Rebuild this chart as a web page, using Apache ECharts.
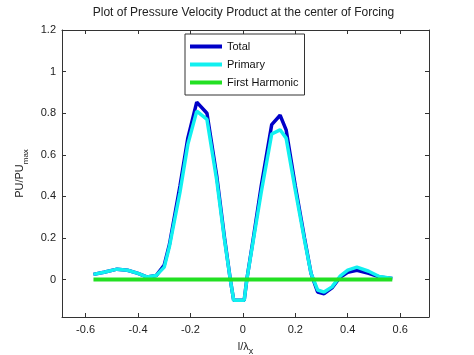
<!DOCTYPE html>
<html><head><meta charset="utf-8">
<script src="https://cdn.jsdelivr.net/npm/echarts@6/dist/echarts.min.js"></script>
<style>html,body{margin:0;padding:0;background:#fff}#c{width:474px;height:355px}</style>
</head><body><div id="c"></div>
<script>
const xTotal = [-0.57,-0.53,-0.48,-0.44,-0.40,-0.365,-0.33,-0.30,-0.28,-0.24,-0.21,-0.176,-0.137,-0.10,-0.07,-0.048,-0.035,0.005,0.015,0.04,0.07,0.11,0.142,0.165,0.20,0.235,0.26,0.285,0.31,0.34,0.37,0.40,0.435,0.48,0.52,0.57];
const total  = [0.025,0.035,0.05,0.045,0.03,0.012,0.02,0.07,0.17,0.45,0.68,0.853,0.80,0.50,0.20,0.0,-0.10,-0.10,0.0,0.2,0.45,0.745,0.79,0.72,0.45,0.2,0.03,-0.06,-0.068,-0.04,0.01,0.035,0.045,0.03,0.013,0.005];
const primary= [0.025,0.035,0.05,0.045,0.03,0.012,0.02,0.06,0.16,0.42,0.65,0.81,0.77,0.48,0.19,0.0,-0.10,-0.10,0.0,0.19,0.42,0.70,0.72,0.68,0.43,0.19,0.03,-0.05,-0.06,-0.035,0.015,0.045,0.06,0.04,0.015,0.005];
const xHarm = [-0.57,0.57];
const harm  = [0,0];
const xTicks = [-0.6,-0.4,-0.2,0,0.2,0.4,0.6];
const yTicks = [0,0.2,0.4,0.6,0.8,1,1.2];

const pair = (xs, ys) => xs.map((x,i)=>[x,ys[i]]);
const axisCol = '#333';
const font = 'Liberation Sans, Arial, sans-serif';
const chart = echarts.init(document.getElementById('c'));
const xBase = {type:'value',min:-0.69,max:0.71,splitLine:{show:false},
  axisLine:{show:true,onZero:false,lineStyle:{color:axisCol}},
  axisTick:{show:true,inside:true,length:4,customValues:xTicks,lineStyle:{color:axisCol}}};
const yBase = {type:'value',min:-0.18,max:1.2,splitLine:{show:false},
  axisLine:{show:true,onZero:false,lineStyle:{color:axisCol}},
  axisTick:{show:true,inside:true,length:4,customValues:yTicks,lineStyle:{color:axisCol}}};
chart.setOption({
  animation:false,
  backgroundColor:'#fff',
  title:{text:'Plot of Pressure Velocity Product at the center of Forcing',left:238.5,top:2,textAlign:'center',
    textStyle:{fontFamily:font,fontSize:12,fontWeight:'normal',color:'#222'}},
  grid:{left:62,right:45,top:30,bottom:38,containLabel:false,outerBoundsMode:'none'},
  legend:{orient:'vertical',left:185,top:34,width:122,itemWidth:32,itemHeight:4,itemGap:7,
    padding:[7,6,7,5],borderColor:'#333',borderWidth:1,backgroundColor:'#fff',
    textStyle:{fontFamily:font,fontSize:11,color:'#111'},
    data:[{name:'Total',icon:'rect'},{name:'Primary',icon:'rect'},{name:'First Harmonic',icon:'rect'}]},
  xAxis:[
    Object.assign({},xBase,{position:'bottom',name:'{a|l/λ}{s|x}',nameLocation:'middle',nameGap:20,
      nameTextStyle:{rich:{a:{fontFamily:font,fontSize:11,color:'#222'},s:{fontFamily:font,fontSize:9,color:'#222',padding:[10,0,0,0]}}},
      axisLabel:{customValues:xTicks,fontFamily:font,fontSize:11,color:'#222',margin:7}}),
    Object.assign({},xBase,{position:'top',axisLabel:{show:false}})
  ],
  yAxis:[
    Object.assign({},yBase,{position:'left',name:'{a|PU/PU}{s|max}',nameLocation:'middle',nameGap:27,
      nameTextStyle:{rich:{a:{fontFamily:font,fontSize:11,color:'#222'},s:{fontFamily:font,fontSize:8,color:'#222',padding:[12,0,0,0]}}},
      axisLabel:{customValues:yTicks,fontFamily:font,fontSize:11,color:'#222',margin:6}}),
    Object.assign({},yBase,{position:'right',axisLabel:{show:false}})
  ],
  series:[
    {name:'Total',type:'line',data:pair(xTotal,total),showSymbol:false,lineStyle:{width:3.5,color:'#0000c8'},itemStyle:{color:'#0000c8'},z:2},
    {name:'Primary',type:'line',data:pair(xTotal,primary),showSymbol:false,lineStyle:{width:3.5,color:'#11f0f0'},itemStyle:{color:'#11f0f0'},z:3},
    {name:'First Harmonic',type:'line',data:pair(xHarm,harm),showSymbol:false,lineStyle:{width:4,color:'#22e022'},itemStyle:{color:'#22e022'},z:4}
  ]
});
</script></body></html>
